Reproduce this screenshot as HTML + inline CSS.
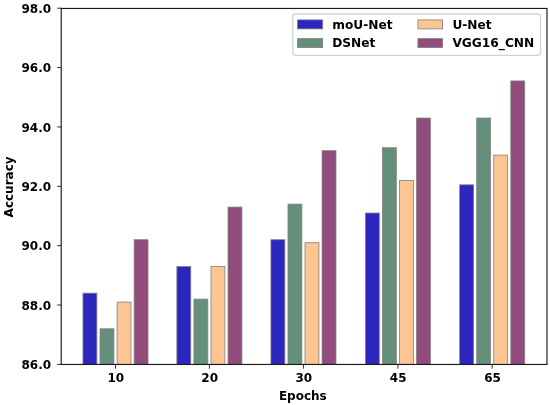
<!DOCTYPE html>
<html><head><meta charset="utf-8"><title>Accuracy vs Epochs</title>
<style>
html,body{margin:0;padding:0;background:#fff;}
svg{display:block;}
text{font-family:"DejaVu Sans","Liberation Sans",sans-serif;font-weight:bold;fill:#000;}
</style></head><body>
<svg width="550" height="405" viewBox="0 0 550 405">
<rect x="0" y="0" width="550" height="405" fill="#ffffff"/>
<rect x="82.97" y="293.16" width="13.90" height="71.24" fill="#2c25be" stroke="#808080" stroke-width="0.8"/>
<rect x="176.88" y="266.45" width="13.90" height="97.95" fill="#2c25be" stroke="#808080" stroke-width="0.8"/>
<rect x="270.93" y="239.73" width="13.90" height="124.67" fill="#2c25be" stroke="#808080" stroke-width="0.8"/>
<rect x="365.38" y="213.02" width="13.90" height="151.38" fill="#2c25be" stroke="#808080" stroke-width="0.8"/>
<rect x="459.68" y="184.82" width="13.90" height="179.58" fill="#2c25be" stroke="#808080" stroke-width="0.8"/>
<rect x="100.02" y="328.78" width="13.90" height="35.62" fill="#648f7b" stroke="#808080" stroke-width="0.8"/>
<rect x="193.93" y="299.10" width="13.90" height="65.30" fill="#648f7b" stroke="#808080" stroke-width="0.8"/>
<rect x="287.98" y="204.11" width="13.90" height="160.29" fill="#648f7b" stroke="#808080" stroke-width="0.8"/>
<rect x="382.43" y="147.71" width="13.90" height="216.69" fill="#648f7b" stroke="#808080" stroke-width="0.8"/>
<rect x="476.73" y="118.03" width="13.90" height="246.37" fill="#648f7b" stroke="#808080" stroke-width="0.8"/>
<rect x="117.08" y="302.07" width="13.90" height="62.33" fill="#fdc591" stroke="#808080" stroke-width="0.8"/>
<rect x="210.98" y="266.45" width="13.90" height="97.95" fill="#fdc591" stroke="#808080" stroke-width="0.8"/>
<rect x="305.02" y="242.70" width="13.90" height="121.70" fill="#fdc591" stroke="#808080" stroke-width="0.8"/>
<rect x="399.47" y="180.36" width="13.90" height="184.04" fill="#fdc591" stroke="#808080" stroke-width="0.8"/>
<rect x="493.77" y="155.13" width="13.90" height="209.27" fill="#fdc591" stroke="#808080" stroke-width="0.8"/>
<rect x="134.12" y="239.73" width="13.90" height="124.67" fill="#924c7b" stroke="#808080" stroke-width="0.8"/>
<rect x="228.03" y="207.08" width="13.90" height="157.32" fill="#924c7b" stroke="#808080" stroke-width="0.8"/>
<rect x="322.07" y="150.68" width="13.90" height="213.72" fill="#924c7b" stroke="#808080" stroke-width="0.8"/>
<rect x="416.52" y="118.03" width="13.90" height="246.37" fill="#924c7b" stroke="#808080" stroke-width="0.8"/>
<rect x="510.82" y="80.92" width="13.90" height="283.48" fill="#924c7b" stroke="#808080" stroke-width="0.8"/>
<rect x="61.2" y="8.45" width="485.80" height="356.00" fill="none" stroke="#1a1a1a" stroke-width="1.15"/>
<line x1="57.10" x2="61.4" y1="364.40" y2="364.40" stroke="#000" stroke-width="0.8"/>
<text x="51.10" y="369.10" font-size="12" text-anchor="end">86.0</text>
<line x1="57.10" x2="61.4" y1="305.03" y2="305.03" stroke="#000" stroke-width="0.8"/>
<text x="51.10" y="309.73" font-size="12" text-anchor="end">88.0</text>
<line x1="57.10" x2="61.4" y1="245.67" y2="245.67" stroke="#000" stroke-width="0.8"/>
<text x="51.10" y="250.37" font-size="12" text-anchor="end">90.0</text>
<line x1="57.10" x2="61.4" y1="186.30" y2="186.30" stroke="#000" stroke-width="0.8"/>
<text x="51.10" y="191.00" font-size="12" text-anchor="end">92.0</text>
<line x1="57.10" x2="61.4" y1="126.93" y2="126.93" stroke="#000" stroke-width="0.8"/>
<text x="51.10" y="131.63" font-size="12" text-anchor="end">94.0</text>
<line x1="57.10" x2="61.4" y1="67.57" y2="67.57" stroke="#000" stroke-width="0.8"/>
<text x="51.10" y="72.27" font-size="12" text-anchor="end">96.0</text>
<line x1="57.10" x2="61.4" y1="8.20" y2="8.20" stroke="#000" stroke-width="0.8"/>
<text x="51.10" y="12.90" font-size="12" text-anchor="end">98.0</text>
<line x1="115.50" x2="115.50" y1="364.4" y2="368.70" stroke="#000" stroke-width="0.8"/>
<text x="115.80" y="381.9" font-size="12" text-anchor="middle">10</text>
<line x1="209.40" x2="209.40" y1="364.4" y2="368.70" stroke="#000" stroke-width="0.8"/>
<text x="209.70" y="381.9" font-size="12" text-anchor="middle">20</text>
<line x1="303.45" x2="303.45" y1="364.4" y2="368.70" stroke="#000" stroke-width="0.8"/>
<text x="303.75" y="381.9" font-size="12" text-anchor="middle">30</text>
<line x1="397.90" x2="397.90" y1="364.4" y2="368.70" stroke="#000" stroke-width="0.8"/>
<text x="398.20" y="381.9" font-size="12" text-anchor="middle">45</text>
<line x1="492.20" x2="492.20" y1="364.4" y2="368.70" stroke="#000" stroke-width="0.8"/>
<text x="492.50" y="381.9" font-size="12" text-anchor="middle">65</text>
<text x="302.8" y="400.3" font-size="12" text-anchor="middle">Epochs</text>
<text transform="translate(13.3,186.9) rotate(-90)" font-size="12" text-anchor="middle">Accuracy</text>
<rect x="292.8" y="14.0" width="247.7" height="41.4" rx="2.8" ry="2.8" fill="#ffffff" fill-opacity="0.8" stroke="#d2d2d2" stroke-width="1.3"/>
<rect x="297.6" y="19.9" width="25.1" height="9" fill="#2c25be" stroke="#808080" stroke-width="0.8"/>
<text x="332.20" y="28.70" font-size="12.2">moU-Net</text>
<rect x="297.6" y="38.6" width="25.1" height="9" fill="#648f7b" stroke="#808080" stroke-width="0.8"/>
<text x="332.20" y="47.40" font-size="12.2">DSNet</text>
<rect x="417.9" y="19.9" width="24.7" height="9" fill="#fdc591" stroke="#808080" stroke-width="0.8"/>
<text x="452.40" y="28.70" font-size="12.2">U-Net</text>
<rect x="417.9" y="38.6" width="24.7" height="9" fill="#924c7b" stroke="#808080" stroke-width="0.8"/>
<text x="452.40" y="47.40" font-size="12.2">VGG16_CNN</text>
</svg>
</body></html>
